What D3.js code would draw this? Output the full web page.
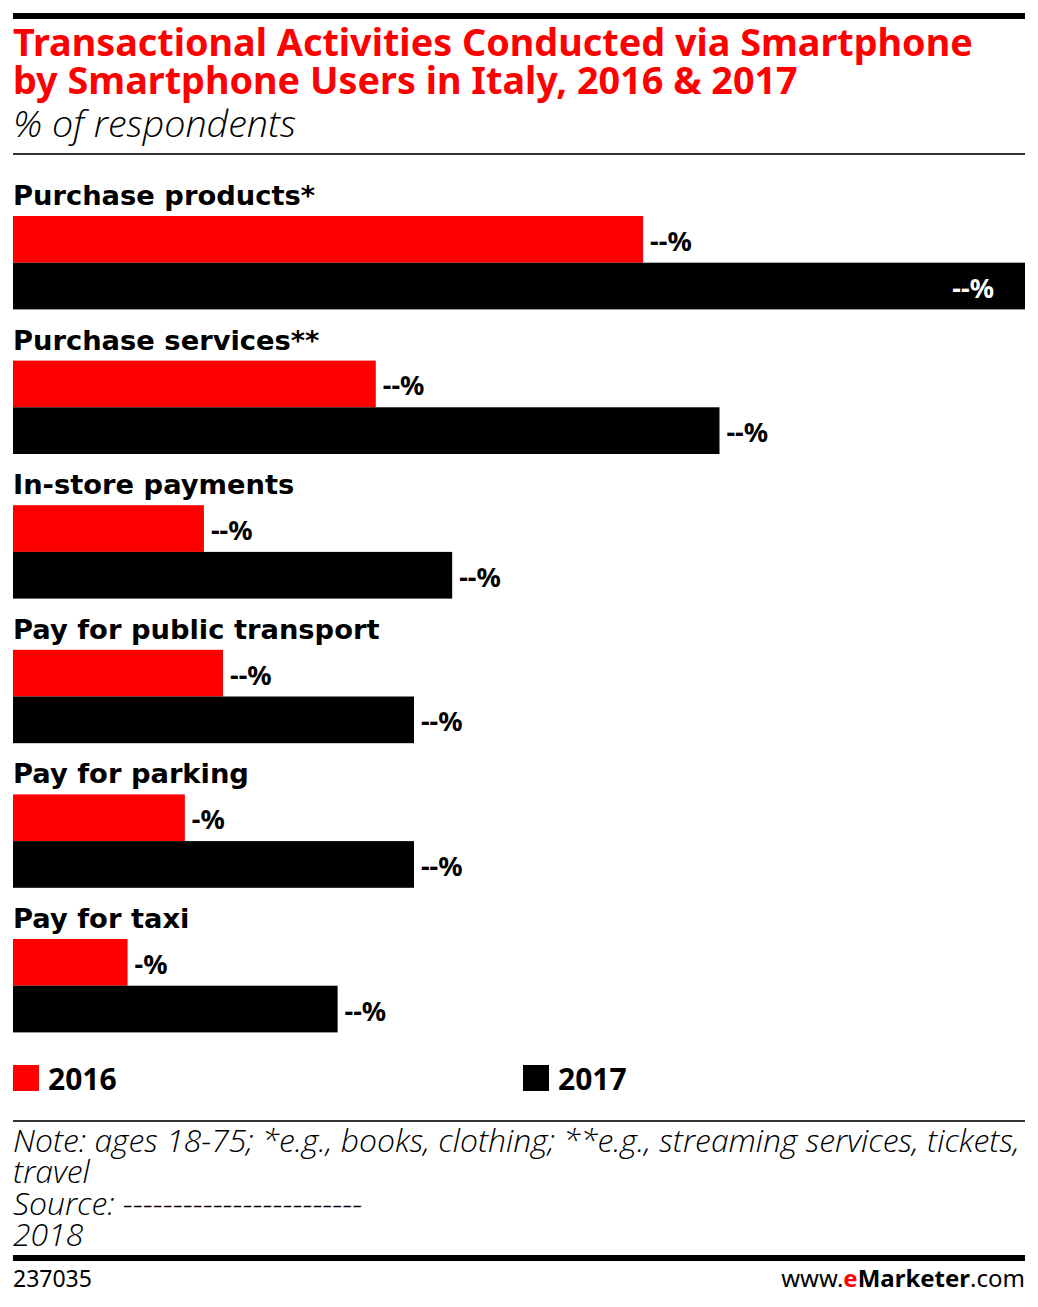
<!DOCTYPE html>
<html>
<head>
<meta charset="utf-8">
<script src="https://cdn.jsdelivr.net/npm/d3@7"></script>
<style>
  body { margin: 0; background: #fff; }
  text { font-family: "Noto Sans", "Open Sans", sans-serif; }
</style>
</head>
<body>
<svg id="chart" width="1038" height="1307"></svg>
<script>
// ---------------- DATA ----------------
const categories = [
  "Purchase products*",
  "Purchase services**",
  "In-store payments",
  "Pay for public transport",
  "Pay for parking",
  "Pay for taxi"
];
const seriesNames = ["2016", "2017"];
const values2016 = [33, 19, 10, 11, 9, 6];
const values2017 = [53, 37, 23, 21, 21, 17];
const seriesColors = ["#ff0000", "#000000"];

const titleLines = [
  "Transactional Activities Conducted via Smartphone",
  "by Smartphone Users in Italy, 2016 & 2017"
];
const subtitle = "% of respondents";
const noteLines = [
  "Note: ages 18-75; *e.g., books, clothing; **e.g., streaming services, tickets,",
  "travel",
  "Source: ------------------------",
  "2018"
];
const chartId = "237035";

const svg = d3.select("#chart");
const left = 13, right = 1025;

// shrink/grow a selection's font so its first text hits the target width
function fitWidth(sel, target) {
  const node = sel.node();
  const size = parseFloat(sel.attr("font-size"));
  const w = node.getComputedTextLength();
  if (w > 0) sel.attr("font-size", (size * target / w).toFixed(2));
}

// ---------------- HEADER ----------------
svg.append("rect").attr("x", left).attr("y", 13).attr("width", right - left).attr("height", 6).attr("fill", "#000");

const title = svg.append("g").selectAll("text")
  .data(titleLines)
  .join("text")
  .attr("x", left).attr("y", (d, i) => 56 + i * 38)
  .attr("font-size", 35).attr("font-weight", "bold")
  .attr("fill", "#ff0000")
  .text(d => d);
fitWidth(title, 960);

const sub = svg.append("text")
  .attr("x", left).attr("y", 137)
  .attr("font-size", 34).attr("font-style", "italic").attr("font-weight", 300)
  .attr("fill", "#000")
  .style("font-family", "'Open Sans', 'Noto Sans', sans-serif")
  .text(subtitle);
fitWidth(sub, 283);

svg.append("rect").attr("x", left).attr("y", 153).attr("width", right - left).attr("height", 2).attr("fill", "#333");

// ---------------- SCALES ----------------
const x = d3.scaleLinear().domain([0, d3.max(values2017)]).range([left, right]);
const y = d3.scaleBand().domain(categories).range([171, 171 + 6 * 144.6]);
const ySeries = d3.scaleBand().domain(seriesNames).range([45, 138.4]);

const rows = categories.map((c, i) => ({
  category: c,
  bars: [
    { series: "2016", value: values2016[i] },
    { series: "2017", value: values2017[i] }
  ]
}));

const groups = svg.append("g").selectAll("g")
  .data(rows)
  .join("g")
  .attr("transform", d => `translate(0,${y(d.category)})`);

// category labels
const catLabels = groups.append("text")
  .attr("x", left).attr("y", 34)
  .attr("font-size", 27).attr("font-weight", "bold")
  .attr("fill", "#000")
  .style("font-family", "'DejaVu Sans', Verdana, sans-serif")
  .text(d => d.category);
fitWidth(catLabels, 302);

// bars
groups.selectAll("rect")
  .data(d => d.bars)
  .join("rect")
  .attr("x", x(0))
  .attr("y", d => ySeries(d.series))
  .attr("width", d => x(d.value) - x(0))
  .attr("height", ySeries.bandwidth())
  .attr("fill", d => seriesColors[seriesNames.indexOf(d.series)]);

// value labels (values are masked as dashes in the source)
const maxVal = d3.max(values2017);
groups.selectAll("text.val")
  .data(d => d.bars)
  .join("text")
  .attr("class", "val")
  .attr("font-size", 27).attr("font-weight", "bold")
  .attr("dominant-baseline", "central")
  .attr("y", d => ySeries(d.series) + ySeries.bandwidth() / 2 + 1)
  .attr("x", d => d.value === maxVal ? x(d.value) - 31 : x(d.value) + 7)
  .attr("text-anchor", d => d.value === maxVal ? "end" : "start")
  .attr("fill", d => d.value === maxVal ? "#fff" : "#000")
  .text(d => String(d.value).replace(/\d/g, "-") + "%");

// ---------------- LEGEND ----------------
const legendX = [13, 523];
const legend = svg.append("g").selectAll("g")
  .data(seriesNames)
  .join("g")
  .attr("transform", (d, i) => `translate(${legendX[i]},1065)`);
legend.append("rect")
  .attr("width", 26).attr("height", 26)
  .attr("fill", (d, i) => seriesColors[i]);
legend.append("text")
  .attr("x", 35).attr("y", 25)
  .attr("font-size", 30).attr("font-weight", "bold")
  .text(d => d);

// ---------------- FOOTER ----------------
svg.append("rect").attr("x", left).attr("y", 1120).attr("width", right - left).attr("height", 2).attr("fill", "#333");

const notes = svg.append("g").selectAll("text")
  .data(noteLines)
  .join("text")
  .attr("x", left)
  .attr("y", (d, i) => 1152 + i * 31.3)
  .attr("font-size", 28).attr("font-style", "italic").attr("font-weight", 300)
  .style("font-family", "'Open Sans', 'Noto Sans', sans-serif")
  .text(d => d);
fitWidth(notes, 1007);

svg.append("rect").attr("x", left).attr("y", 1255).attr("width", right - left).attr("height", 6).attr("fill", "#000");

svg.append("text")
  .attr("x", left).attr("y", 1287)
  .attr("font-size", 23)
  .text(chartId);

const brand = svg.append("text")
  .attr("x", right).attr("y", 1287)
  .attr("text-anchor", "end")
  .attr("font-size", 24);
brand.append("tspan").text("www.");
brand.append("tspan").attr("fill", "#ff0000").attr("font-weight", "bold").text("e");
brand.append("tspan").attr("font-weight", "bold").text("Marketer");
brand.append("tspan").text(".com");
</script>
</body>
</html>
